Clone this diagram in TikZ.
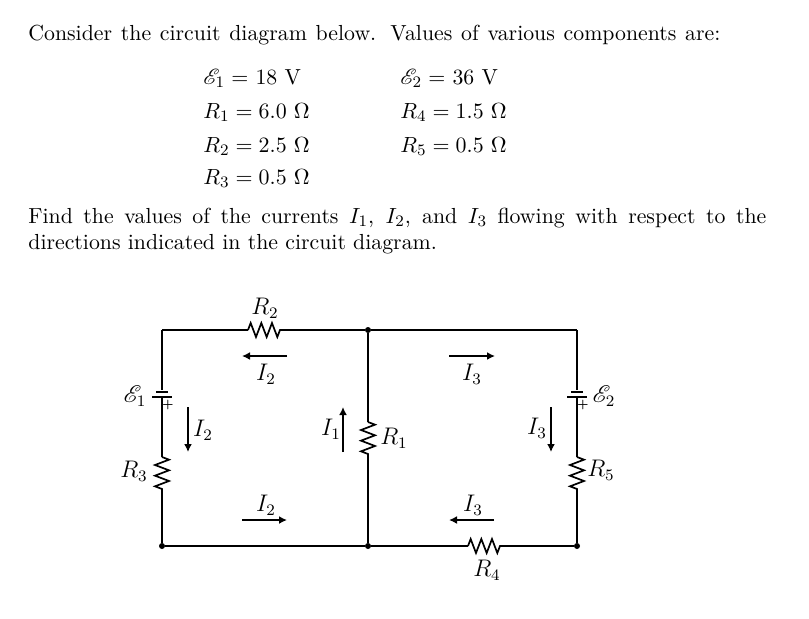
\documentclass[tikz,border=0pt]{standalone}
\usepackage{mathrsfs}
\usetikzlibrary{arrows.meta,decorations.pathmorphing}
\tikzstyle{txt} = [anchor=base west, inner sep=0pt, font=\fontsize{10.9}{13}\selectfont]
\tikzstyle{para} = [txt, text width=369pt, align=justify]
\tikzstyle{lbl} = [inner sep=0pt, font=\large]
\tikzstyle{wire} = [draw, line width=0.85pt]
\tikzstyle{dot} = [circle, fill=black, inner sep=0pt, minimum size=3pt]
\tikzstyle{res} = [wire, decorate, decoration={zigzag, segment length=5.33pt, amplitude=3.5pt}]
\tikzstyle{line} = [draw, line width=0.85pt, -{Latex[length=4pt,width=4pt]}]
\tikzstyle{platelong} = [fill=black, inner sep=0pt, minimum width=10pt, minimum height=0.8pt]
\tikzstyle{plateshort} = [fill=black, inner sep=0pt, minimum width=6pt, minimum height=1.4pt]

\begin{document}
\begin{tikzpicture}[x=0.5pt, y=-0.5pt]
    \useasboundingbox (0,0) rectangle (809,618);
    % Place text
    \node [txt] (intro) at (28,40) {\hbox to 346pt{Consider the circuit diagram below. Values of various components are:}};
    \node [txt] (e1val) at (203,84) {$\mathscr{E}_1 =$\ 18 V};
    \node [txt] (r1val) at (203,118) {$R_1 = 6.0~\Omega$};
    \node [txt] (r2val) at (203,152) {$R_2 = 2.5~\Omega$};
    \node [txt] (r3val) at (203,184) {$R_3 = 0.5~\Omega$};
    \node [txt] (e2val) at (400,84) {$\mathscr{E}_2 =$\ 36 V};
    \node [txt] (r4val) at (400,118) {$R_4 = 1.5~\Omega$};
    \node [txt] (r5val) at (400,152) {$R_5 = 0.5~\Omega$};
    \node [para] (find) at (28,223) {Find the values of the currents $I_1$, $I_2$, and $I_3$ flowing with respect to the\linebreak directions indicated in the circuit diagram.};
    % Place junctions
    \coordinate (tl) at (162,330);
    \coordinate (tr) at (577,330);
    \node [dot] (tm) at (368,330) {};
    \node [dot] (bl) at (162,546) {};
    \node [dot] (bm) at (368,546) {};
    \node [dot] (br) at (577,546) {};
    % Place components
    \coordinate (r2a) at (248,330);
    \coordinate (r2b) at (280,330);
    \coordinate (r1a) at (368,422);
    \coordinate (r1b) at (368,454);
    \coordinate (r3a) at (162,457);
    \coordinate (r3b) at (162,489);
    \coordinate (r5a) at (577,457);
    \coordinate (r5b) at (577,489);
    \coordinate (r4a) at (468,546);
    \coordinate (r4b) at (500,546);
    \node [plateshort] (e1s) at (162,392) {};
    \node [platelong] (e1l) at (162,397) {};
    \node [plateshort] (e2s) at (577,392) {};
    \node [platelong] (e2l) at (577,397) {};
    % Draw wires
    \path [wire] (tl) -- (r2a);
    \path [wire] (r2b) -- (tm);
    \path [wire] (tm) -- (tr);
    \path [wire] (tl) -- (e1s);
    \path [wire] (e1l) -- (r3a);
    \path [wire] (r3b) -- (bl);
    \path [wire] (tm) -- (r1a);
    \path [wire] (r1b) -- (bm);
    \path [wire] (tr) -- (e2s);
    \path [wire] (e2l) -- (r5a);
    \path [wire] (r5b) -- (br);
    \path [wire] (bl) -- (bm);
    \path [wire] (bm) -- (r4a);
    \path [wire] (r4b) -- (br);
    \path [res] (r2a) -- (r2b);
    \path [res] (r1a) -- (r1b);
    \path [res] (r3a) -- (r3b);
    \path [res] (r5a) -- (r5b);
    \path [res] (r4a) -- (r4b);
    % Labels
    \node [lbl] (r2lbl) at (265,308) {$R_2$};
    \node [lbl] (r4lbl) at (487,570) {$R_4$};
    \node [lbl] (r1lbl) at (394,438) {$R_1$};
    \node [lbl] (r3lbl) at (134,471) {$R_3$};
    \node [lbl] (r5lbl) at (601,470) {$R_5$};
    \node [lbl] (e1lbl) at (135,396) {$\mathscr{E}_1$};
    \node [lbl] (e2lbl) at (604,396) {$\mathscr{E}_2$};
    \node [lbl, font=\tiny\bfseries] (e1plus) at (168,405) {+};
    \node [lbl, font=\tiny\bfseries] (e2plus) at (583,405) {+};
    % Draw currents
    \coordinate (a1s) at (287,356); \coordinate (a1e) at (242,356);
    \coordinate (a2s) at (188,407); \coordinate (a2e) at (188,452);
    \coordinate (a3s) at (343,452); \coordinate (a3e) at (343,407);
    \coordinate (a4s) at (242,520); \coordinate (a4e) at (287,520);
    \coordinate (a5s) at (449,356); \coordinate (a5e) at (495,356);
    \coordinate (a6s) at (551,407); \coordinate (a6e) at (551,452);
    \coordinate (a7s) at (494,520); \coordinate (a7e) at (449,520);
    \path [line] (a1s) -- (a1e);
    \path [line] (a2s) -- (a2e);
    \path [line] (a3s) -- (a3e);
    \path [line] (a4s) -- (a4e);
    \path [line] (a5s) -- (a5e);
    \path [line] (a6s) -- (a6e);
    \path [line] (a7s) -- (a7e);
    \node [lbl] (i2top) at (266,374) {$I_2$};
    \node [lbl] (i2left) at (203,430) {$I_2$};
    \node [lbl] (i1) at (331,429) {$I_1$};
    \node [lbl] (i2bot) at (266,505) {$I_2$};
    \node [lbl] (i3top) at (472,374) {$I_3$};
    \node [lbl] (i3right) at (537,428) {$I_3$};
    \node [lbl] (i3bot) at (473,505) {$I_3$};
\end{tikzpicture}
\end{document}
